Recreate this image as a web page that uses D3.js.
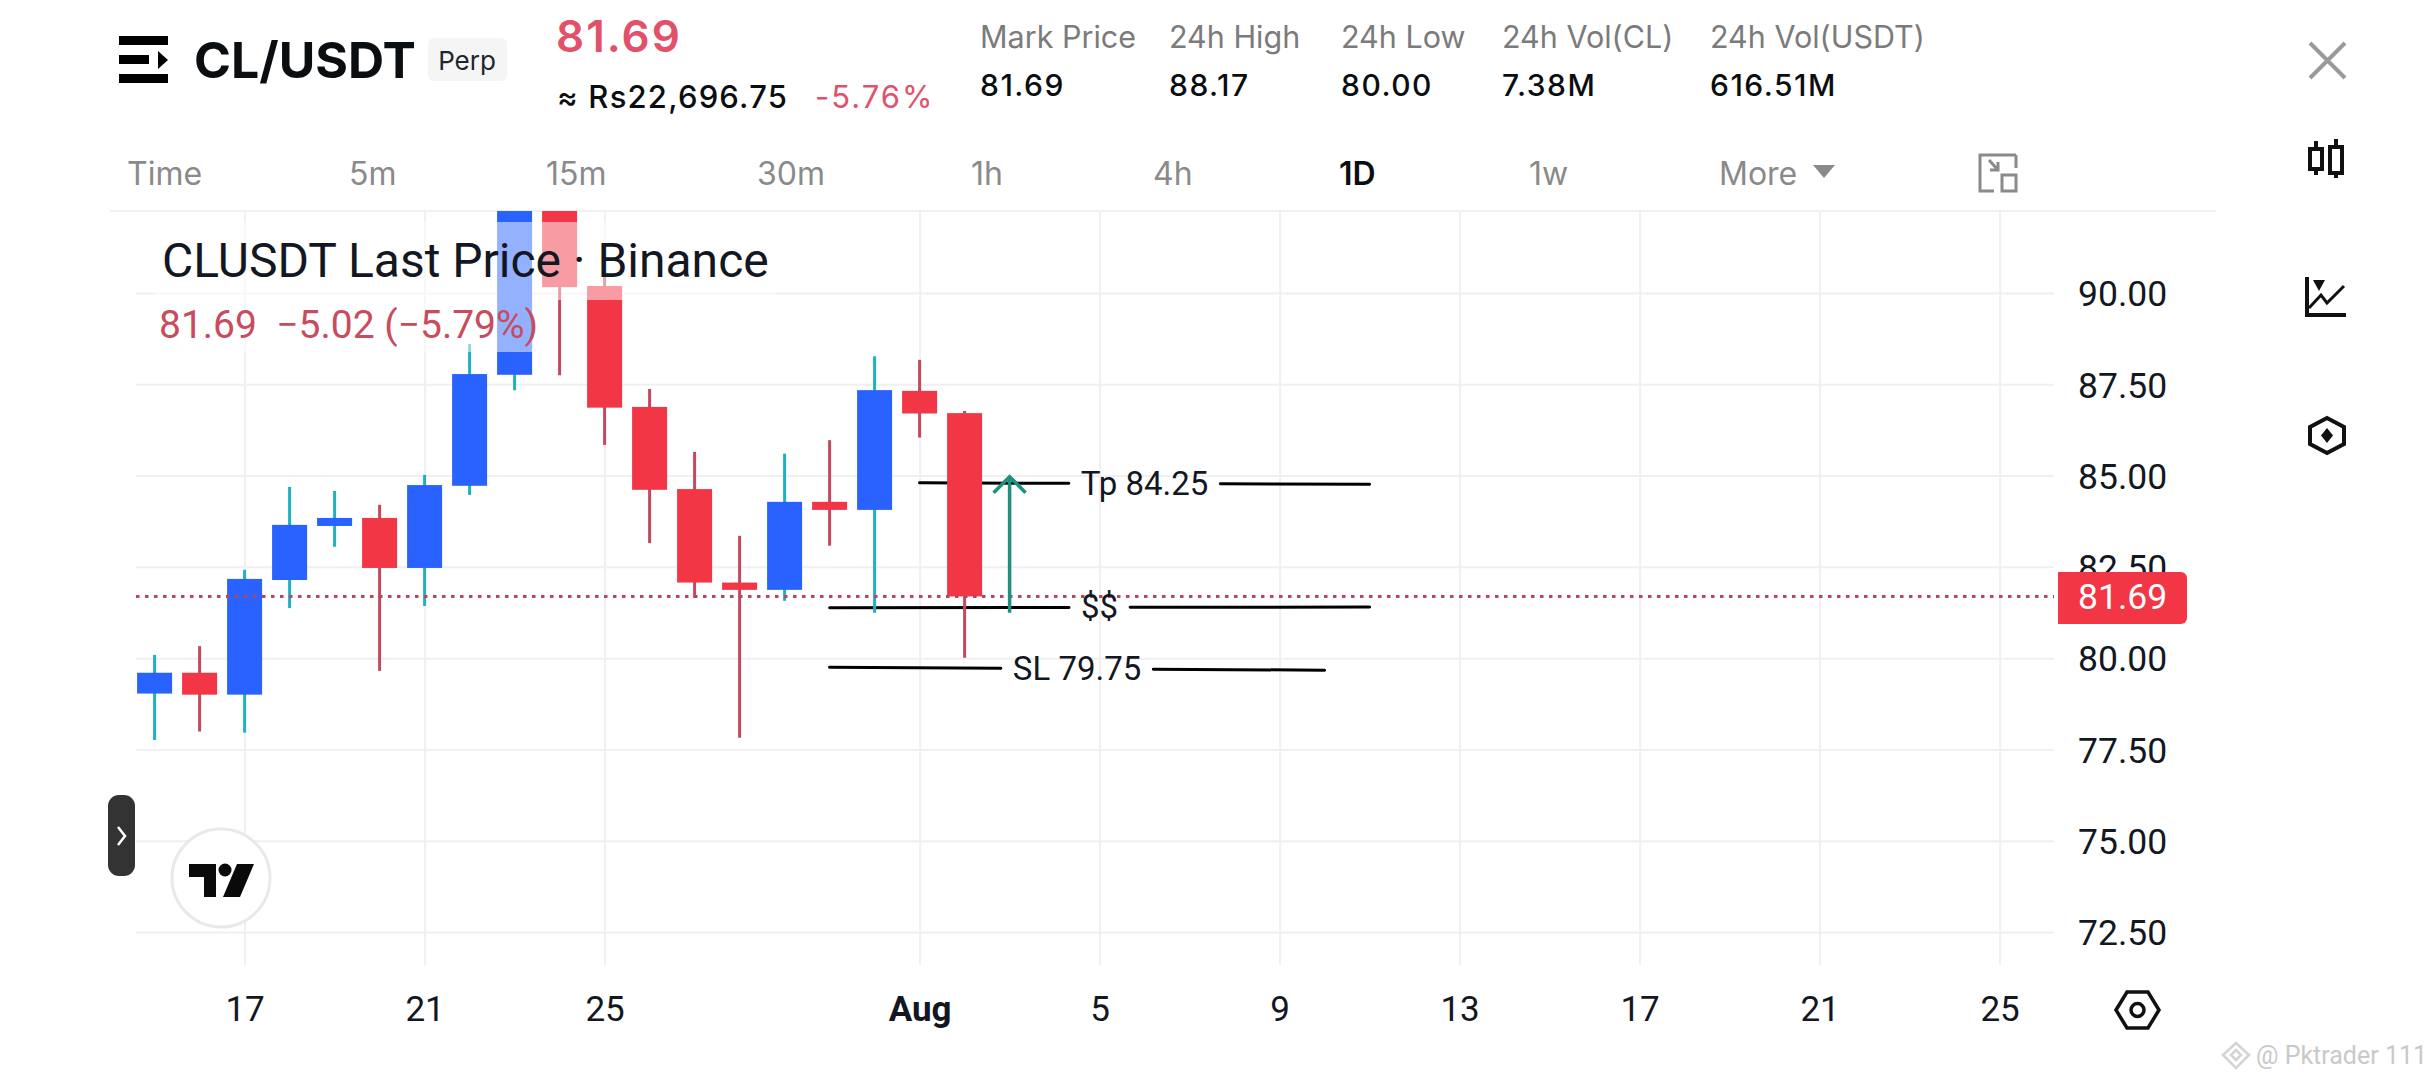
<!DOCTYPE html>
<html>
<head>
<meta charset="utf-8">
<title>CL/USDT</title>
<script src="https://cdn.jsdelivr.net/npm/d3@7"></script>
<style>
  html, body { margin: 0; padding: 0; background: #fff; }
  svg { display: block; }
  text { font-family: Roboto, sans-serif; }
  .hdr { font-family: Inter, sans-serif; }
  .axis .domain { display: none; }
  .axis line { stroke: #f0f0f2; stroke-width: 2; }
  .axis text { fill: #131722; font-size: 35.5px; }
</style>
</head>
<body>
<svg id="chart" width="2436" height="1080"></svg>
<script>
/* daily candles (23 and 24 run above the pane, tops estimated) */
const candleDates = ["07-15","07-16","07-17","07-18","07-19","07-20","07-21","07-22","07-23","07-24",
                     "07-25","07-26","07-27","07-28","07-29","07-30","07-31","08-01","08-02"];
const opens  = [79.03, 79.60, 79.00, 82.14, 83.62, 83.84, 82.47, 84.72, 87.76, 94.00,
                90.19, 86.88, 84.63, 82.07, 81.87, 84.28, 84.06, 87.32, 86.71];
const highs  = [80.09, 80.33, 82.42, 84.69, 84.58, 84.20, 85.02, 88.60, 95.00, 95.50,
                90.44, 87.37, 85.65, 83.35, 85.60, 85.97, 88.27, 88.17, 86.77];
const lows   = [77.76, 77.99, 77.96, 81.37, 83.05, 79.65, 81.43, 84.47, 87.34, 87.75,
                85.84, 83.15, 81.65, 77.82, 81.57, 83.08, 81.24, 86.04, 80.01];
const closes = [79.60, 79.00, 82.17, 83.65, 83.84, 82.47, 84.74, 87.78, 93.90, 90.16,
                86.86, 84.61, 82.07, 81.87, 84.28, 84.06, 87.34, 86.70, 81.69];

const priceTicks = [72.5, 75, 77.5, 80, 82.5, 85, 87.5, 90];
const dateTicks = ["07-17","07-21","07-25","08-01","08-05","08-09","08-13","08-17","08-21","08-25"];
const dateTickLabels = ["17","21","25","Aug","5","9","13","17","21","25"];
const lastPrice = 81.69;

/* hand drawn lines: start date, end date, start and end price, label */
const drawStart = ["08-01", "07-30", "07-30"];
const drawEnd   = ["08-11", "08-11", "08-10"];
const drawFrom  = [84.80, 81.38, 79.75];
const drawTo    = [84.76, 81.40, 79.67];
const drawText  = ["Tp 84.25", "$$", "SL 79.75"];

const arrowDate = "08-03";
const arrowFrom = 81.24;
const arrowTo   = 84.97;

const statLabels = ["Mark Price", "24h High", "24h Low", "24h Vol(CL)", "24h Vol(USDT)"];
const statValues = ["81.69", "88.17", "80.00", "7.38M", "616.51M"];
const statX = [980, 1169, 1341, 1502, 1710];
const tabs = ["Time", "5m", "15m", "30m", "1h", "4h", "1D", "1w", "More"];
const tabX = [127, 349, 546, 757, 971, 1153, 1339, 1529, 1719];

const UP = "#2962ff", DOWN = "#f23645";
const WICK_UP = "#1fb0c2", WICK_DOWN = "#c2495e";
const PANE_TOP = 211, PANE_BOTTOM = 965, PANE_LEFT = 136, PANE_RIGHT = 2054;
const BODY_W = 35;

const day = s => new Date(Date.UTC(2025, +s.slice(0, 2) - 1, +s.slice(3)));

const x = d3.scaleUtc().domain([day("07-15"), day("08-25")]).range([154.6, 1999.6]);
const y = d3.scaleLinear().domain([72.5, 90]).range([932, 293]);

const svg = d3.select("#chart");

svg.append("defs").append("clipPath").attr("id", "pane")
  .append("rect")
  .attr("x", PANE_LEFT).attr("y", PANE_TOP)
  .attr("width", PANE_RIGHT - PANE_LEFT).attr("height", PANE_BOTTOM - PANE_TOP);

/* Grid and axes */
svg.append("line")
  .attr("x1", 110).attr("x2", 2216).attr("y1", PANE_TOP).attr("y2", PANE_TOP)
  .attr("stroke", "#f0f0f2").attr("stroke-width", 2);

const yAxis = svg.append("g").attr("class", "axis")
  .attr("transform", `translate(${PANE_RIGHT},0)`)
  .call(d3.axisRight(y).tickValues(priceTicks).tickFormat(d3.format(".2f"))
    .tickSize(-(PANE_RIGHT - PANE_LEFT)).tickPadding(24));
yAxis.selectAll("text").attr("dy", "0.36em");

const xAxis = svg.append("g").attr("class", "axis")
  .attr("transform", `translate(0,${PANE_BOTTOM})`)
  .call(d3.axisBottom(x).tickValues(dateTicks.map(day))
    .tickFormat((d, i) => dateTickLabels[i])
    .tickSize(-(PANE_BOTTOM - PANE_TOP)).tickPadding(31));
xAxis.selectAll("text")
  .style("font-size", "35px")
  .attr("font-weight", (d, i) => dateTickLabels[i] === "Aug" ? 700 : 400);

/* Trend lines sit under the candles, each one broken around its centred label */
const pane = svg.append("g").attr("clip-path", "url(#pane)");
const drawings = pane.append("g");

drawText.forEach((label, i) => {
  const x1 = x(day(drawStart[i])), x2 = x(day(drawEnd[i]));
  const y1 = y(drawFrom[i]), y2 = y(drawTo[i]);
  const mid = (x1 + x2) / 2;
  const t = svg.append("text")
    .attr("class", "draw-label")
    .attr("x", mid).attr("y", (y1 + y2) / 2 + 11)
    .attr("text-anchor", "middle")
    .attr("font-size", 33)
    .attr("fill", "#131722")
    .text(label);
  const half = t.node().getBBox().width / 2 + 12;
  const at = px => y1 + (y2 - y1) * (px - x1) / (x2 - x1);
  [[x1, mid - half], [mid + half, x2]].forEach(([a, b]) => {
    drawings.append("line")
      .attr("x1", a).attr("y1", at(a)).attr("x2", b).attr("y2", at(b))
      .attr("stroke", "#000").attr("stroke-width", 3).attr("stroke-linecap", "round");
  });
});

/* Candles */
const candles = candleDates.map((d, i) => ({
  date: day(d), open: opens[i], high: highs[i], low: lows[i], close: closes[i]
}));

const candle = pane.append("g").selectAll("g").data(candles).join("g");

candle.append("line")
  .attr("x1", d => x(d.date)).attr("x2", d => x(d.date))
  .attr("y1", d => y(d.high)).attr("y2", d => y(d.low))
  .attr("stroke", d => d.close >= d.open ? WICK_UP : WICK_DOWN)
  .attr("stroke-width", 3);

candle.append("rect")
  .attr("x", d => x(d.date) - BODY_W / 2)
  .attr("width", BODY_W)
  .attr("y", d => y(Math.max(d.open, d.close)))
  .attr("height", d => Math.abs(y(d.open) - y(d.close)))
  .attr("fill", d => d.close >= d.open ? UP : DOWN);

/* Last price line and arrow */
pane.append("line")
  .attr("x1", PANE_LEFT).attr("x2", PANE_RIGHT)
  .attr("y1", y(lastPrice)).attr("y2", y(lastPrice))
  .attr("stroke", "#b5475d").attr("stroke-width", 3).attr("stroke-dasharray", "3.5 5.5");

const ax = x(day(arrowDate));
const arrowG = pane.append("g")
  .attr("fill", "none").attr("stroke", "#1f8f7f").attr("stroke-width", 3.5);
arrowG.append("line")
  .attr("x1", ax).attr("x2", ax).attr("y1", y(arrowFrom)).attr("y2", y(arrowTo));
arrowG.append("path")
  .attr("d", `M${ax - 16},${y(arrowTo) + 16} L${ax},${y(arrowTo)} L${ax + 16},${y(arrowTo) + 16}`);

/* Labels of the drawings go on top again */
svg.selectAll(".draw-label").raise();

/* Legend rows wash out whatever sits behind them */
svg.append("path")
  .attr("d", "M155,222 H776 V300 H545 V352 H155 Z")
  .attr("fill", "#fff").attr("fill-opacity", 0.5);
svg.append("text")
  .attr("x", 162).attr("y", 277).attr("font-size", 48).attr("fill", "#131722")
  .text("CLUSDT Last Price · Binance");
svg.append("text")
  .attr("x", 159).attr("y", 338).attr("font-size", 39).attr("fill", "#c94b5e")
  .attr("xml:space", "preserve")
  .text("81.69  −5.02 (−5.79%)");

/* Price tag */
svg.append("path")
  .attr("d", "M2058,572 H2181 a6,6 0 0 1 6,6 V618 a6,6 0 0 1 -6,6 H2058 Z")
  .attr("fill", "#f23645");
svg.append("text")
  .attr("x", PANE_RIGHT + 24).attr("y", y(lastPrice) + 12.5)
  .attr("font-size", 35.5).attr("fill", "#fff")
  .text(lastPrice.toFixed(2));

/* Header */
const header = svg.append("g");
const hdrText = (tx, ty, size, weight, fill, str, anchor, spacing) => header.append("text")
  .attr("class", "hdr").attr("x", tx).attr("y", ty)
  .attr("font-size", size).attr("font-weight", weight).attr("fill", fill)
  .attr("text-anchor", anchor || "start").attr("letter-spacing", spacing || 0).text(str);

/* exchange mark */
[[36, 9], [55, 9], [74, 9]].forEach(([ty, h], i) => {
  header.append("rect").attr("x", 119).attr("y", ty).attr("height", h)
    .attr("width", i === 1 ? 30 : 49).attr("fill", "#000");
});
header.append("path").attr("d", "M158,51 L168,60 L158,69 Z").attr("fill", "#000");

hdrText(194, 78, 50, 700, "#0b0e11", "CL/USDT");
header.append("rect").attr("x", 428).attr("y", 38).attr("width", 79).attr("height", 43)
  .attr("rx", 6).attr("fill", "#f5f5f5");
hdrText(467, 70, 26, 400, "#202630", "Perp", "middle");

hdrText(556, 52, 44, 600, "#e2506a", "81.69", "start", 2);
hdrText(557, 108, 31, 500, "#0b0e11", "≈ Rs22,696.75", "start", 1.2);
hdrText(815, 108, 31, 400, "#e2506a", "-5.76%", "start", 2);

statLabels.forEach((s, i) => {
  hdrText(statX[i], 48, 30.5, 400, "#7b7b7b", s);
  hdrText(statX[i], 96, 30, 500, "#0b0e11", statValues[i], "start", 1.5);
});

tabs.forEach((s, i) => {
  hdrText(tabX[i], 185, 32, s === "1D" ? 600 : 400, s === "1D" ? "#0b0e11" : "#8a8a8a", s);
});
header.append("path").attr("d", "M1813,165 H1835 L1824,178 Z").attr("fill", "#8a8a8a");

/* layout toggle icon */
const icons = svg.append("g").attr("fill", "none").attr("stroke", "#8a8a8a").attr("stroke-width", 3);
icons.append("path").attr("d", "M2006,155 H1980 V191 H1994 M2016,155 H2006 M2016,155 V168");
icons.append("rect").attr("x", 2002).attr("y", 175).attr("width", 14).attr("height", 16);
icons.append("path").attr("d", "M1989,160 L1998,170 M1998,162 V170 H1990");

/* close */
svg.append("path").attr("d", "M2310,43 L2345,78 M2345,43 L2310,78")
  .attr("fill", "none").attr("stroke", "#9a9a9a").attr("stroke-width", 4);

/* side toolbar */
const tools = svg.append("g").attr("fill", "none").attr("stroke", "#111").attr("stroke-width", 4);
tools.append("rect").attr("x", 2310).attr("y", 149).attr("width", 12).attr("height", 20);
tools.append("rect").attr("x", 2330).attr("y", 147).attr("width", 12).attr("height", 26);
tools.append("path").attr("d", "M2316,141 V149 M2316,169 V175 M2336,139 V147 M2336,173 V178");
tools.append("path").attr("d", "M2307,277 V315 H2346");
tools.append("path").attr("d", "M2309,308 L2321,295 L2327,303 L2344,286").attr("stroke-width", 3);
svg.append("path").attr("d", "M2313,280 H2325 L2319,291 Z").attr("fill", "#111");
tools.append("path").attr("d", "M2327,418 L2344,427 V444 L2327,453 L2310,444 V427 Z");
svg.append("path").attr("d", "M2327,428 L2333,435.5 L2327,443 L2321,435.5 Z").attr("fill", "#111");

/* bottom right settings hexagon */
tools.append("path").attr("d", "M2116,1010 L2127,992 H2148 L2159,1010 L2148,1028 H2127 Z").attr("stroke-width", 3.5);
tools.append("circle").attr("cx", 2137.5).attr("cy", 1010).attr("r", 6.5).attr("stroke-width", 3.5);

/* drawer handle */
svg.append("rect").attr("x", 108).attr("y", 795).attr("width", 27).attr("height", 81)
  .attr("rx", 11).attr("fill", "#333");
svg.append("path").attr("d", "M118,827 L125,836 L118,845")
  .attr("fill", "none").attr("stroke", "#fff").attr("stroke-width", 2.5);

/* tradingview badge */
const badge = svg.append("g");
badge.append("circle").attr("cx", 221).attr("cy", 878).attr("r", 49)
  .attr("fill", "#fff").attr("stroke", "#e9e9e9").attr("stroke-width", 3);
badge.append("path").attr("fill", "#0a0a0a")
  .attr("d", "M189,864 H216 V897 H204 V877 H189 Z M237,864 H254 L240,897 H223 Z");
badge.append("circle").attr("cx", 225).attr("cy", 870).attr("r", 6.5).attr("fill", "#0a0a0a");

/* watermark */
const mark = svg.append("g");
mark.append("path")
  .attr("d", "M2236,1043 L2249,1055 L2236,1068 L2223,1055 Z M2236,1050 L2241,1055 L2236,1060 L2231,1055 Z")
  .attr("fill", "none").attr("stroke", "#d4d4d4").attr("stroke-width", 2.5);
mark.append("text").attr("x", 2256).attr("y", 1064).attr("font-size", 25)
  .attr("fill", "#c9c9c9").text("@ Pktrader 111");
</script>
</body>
</html>
